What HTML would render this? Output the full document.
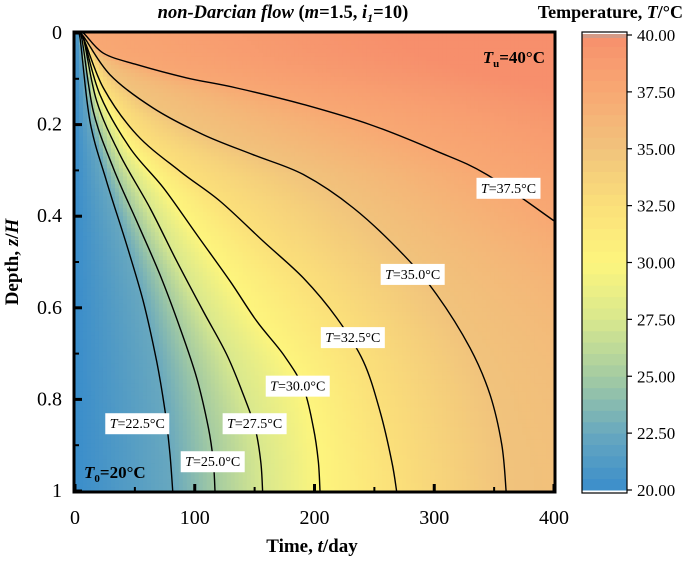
<!DOCTYPE html>
<html><head><meta charset="utf-8">
<style>
body{margin:0;background:#fff;}
svg{display:block;font-family:"Liberation Serif",serif;}
</style></head>
<body>
<svg id="chart" width="685" height="561" viewBox="0 0 685 561">
  <defs><clipPath id="clip"><rect x="75" y="33" width="479" height="458"/></clipPath></defs>
  <g id="heat" clip-path="url(#clip)"></g>
  <g id="contours" clip-path="url(#clip)"></g>
  <g id="labels"></g>
  <rect x="74" y="32" width="481" height="460" fill="none" stroke="#000" stroke-width="3"/>
  <g id="axes"></g>
  <text x="283" y="18" text-anchor="middle" font-size="18.5" font-weight="bold" font-style="italic">non-Darcian flow <tspan font-style="normal">(</tspan>m<tspan font-style="normal">=1.5, </tspan>i<tspan font-size="12" dy="4">1</tspan><tspan font-style="normal" dy="-4">=10)</tspan></text>
  <text x="683" y="18" text-anchor="end" font-size="18" font-weight="bold">Temperature, <tspan font-style="italic">T</tspan>/°C</text>
  <text x="545" y="63" text-anchor="end" font-size="17" font-weight="bold"><tspan font-style="italic">T</tspan><tspan font-size="11" dy="4">u</tspan><tspan dy="-4">=40°C</tspan></text>
  <text x="84" y="478" font-size="17" font-weight="bold"><tspan font-style="italic">T</tspan><tspan font-size="11" dy="4">0</tspan><tspan dy="-4">=20°C</tspan></text>
  <text x="312" y="552" text-anchor="middle" font-size="19" font-weight="bold">Time, <tspan font-style="italic">t</tspan>/day</text>
  <text transform="translate(18,262) rotate(-90)" text-anchor="middle" font-size="19" font-weight="bold">Depth, <tspan font-style="italic">z</tspan>/<tspan font-style="italic">H</tspan></text>
  <g id="cbar"></g>
</svg>
<script>
const levels=[22.5,25,27.5,30,32.5,35,37.5];
const c225t=[4.2,12.5,26.4,43.1,57,68.2,75.2,79.3,81.6];
const c225z=[0.011,0.193,0.324,0.462,0.586,0.717,0.826,0.920,1.0];
const c25t=[5.6,15.3,32,51.5,71,87.7,101.6,111.4,115.5,116.9];
const c25z=[0.011,0.171,0.295,0.411,0.528,0.644,0.753,0.862,0.935,1.0];
const c275t=[6.9,18.1,37.6,62.6,84.9,107.2,126.7,140.6,150.3,155.1,156.7];
const c275z=[0.011,0.149,0.266,0.382,0.498,0.608,0.702,0.790,0.862,0.935,1.0];
const c30t=[6.9,20.9,45.9,73.8,101.6,129.5,151.7,174,190.7,199.1,203.2,204.6];
const c30z=[0.011,0.135,0.251,0.338,0.440,0.542,0.629,0.702,0.775,0.862,0.935,1.0];
const c325t=[6.9,23.7,51.5,87.7,121.1,157.3,190.7,218.5,240.8,254.7,264.5,268.6];
const c325z=[0.011,0.120,0.222,0.302,0.367,0.455,0.535,0.622,0.717,0.826,0.935,1.0];
const c35t=[6.9,29.2,65.4,107.2,149,190.7,232.5,274.2,302,329.9,346.6,356.4,360];
const c35z=[0.007,0.091,0.164,0.222,0.266,0.309,0.382,0.484,0.571,0.688,0.790,0.899,1.0];
const c375t=[6.9,23.7,51.5,93.3,135,190.7,246.4,302,343.8,400];
const c375z=[0,0.044,0.069,0.098,0.120,0.156,0.200,0.258,0.309,0.410];
const labelT=[52,115,150,186,232,282,362];
const labelZ=[0.852,0.935,0.852,0.77,0.664,0.526,0.338];
const xTicks=[0,100,200,300,400];
const yTicks=[0,0.2,0.4,0.6,0.8,1];
const cbTicks=[20,22.5,25,27.5,30,32.5,35,37.5,40];
const cmapT=[20,22.5,25,27.5,30,32.5,35,37.5,40];
const cmapC=["#3a8dcb","#68a8bf","#a4cba2","#d8e88e","#fdf57d","#fbe07a","#f1c37c","#f8a873","#f78f6c"];

const NS="http://www.w3.org/2000/svg";
const X=t=>75+t*479/400, Y=z=>33+z*458;
const CB0=32,CB1=493,CBX=582,CBW=45;
const CY=v=>CB1-(v-20)/20*(CB1-CB0-6)-3;
function el(tag,attrs,parent){const e=document.createElementNS(NS,tag);for(const k in attrs)e.setAttribute(k,attrs[k]);parent.appendChild(e);return e;}
function hex(h){return [1,3,5].map(i=>parseInt(h.substr(i,2),16));}
function color(v){v=Math.max(20,Math.min(40,v));for(let i=0;i<cmapT.length-1;i++){if(v<=cmapT[i+1]){const f=(v-cmapT[i])/(cmapT[i+1]-cmapT[i]);const a=hex(cmapC[i]),b=hex(cmapC[i+1]);return `rgb(${a.map((x,j)=>Math.round(x+(b[j]-x)*f)).join(',')})`;}}return cmapC[cmapC.length-1];}
const cts=[[c225t,c225z],[c25t,c25z],[c275t,c275z],[c30t,c30z],[c325t,c325z],[c35t,c35z],[c375t,c375z]];
function tAt(ci,z){const [ts,zs]=cts[ci];if(z<=zs[0])return ts[0];for(let i=0;i<zs.length-1;i++){if(z<=zs[i+1]){const f=(z-zs[i])/(zs[i+1]-zs[i]);return ts[i]+(ts[i+1]-ts[i])*f;}}const n=zs.length;return ts[n-1]+(z-zs[n-1])*700;}
function temp(t,z){const bs=levels.map((_,i)=>tAt(i,z));if(t<=bs[0])return 20+2.5*t/bs[0];for(let i=0;i<bs.length-1;i++){if(t<=bs[i+1])return levels[i]+2.5*(t-bs[i])/(bs[i+1]-bs[i]);}return 37.5+2.5*Math.min(1,(t-bs[6])/260);}
function smooth(pts){let d='M'+pts[0][0].toFixed(1)+','+pts[0][1].toFixed(1);
for(let i=0;i<pts.length-1;i++){const p0=pts[Math.max(0,i-1)],p1=pts[i],p2=pts[i+1],p3=pts[Math.min(pts.length-1,i+2)];
const c1=[p1[0]+(p2[0]-p0[0])/6,p1[1]+(p2[1]-p0[1])/6],c2=[p2[0]-(p3[0]-p1[0])/6,p2[1]-(p3[1]-p1[1])/6];
d+=` C${c1[0].toFixed(1)},${c1[1].toFixed(1)} ${c2[0].toFixed(1)},${c2[1].toFixed(1)} ${p2[0].toFixed(1)},${p2[1].toFixed(1)}`;}return d;}
// heatmap
const heat=document.getElementById('heat');
const nx=120,nz=115;
for(let j=0;j<nz;j++){for(let i=0;i<nx;i++){const t=(i+0.5)*400/nx,z=(j+0.5)/nz;
const r=el('rect',{x:X(i*400/nx).toFixed(2),y:Y(j/nz).toFixed(2),width:(479/nx+0.6).toFixed(2),height:(458/nz+0.6).toFixed(2),fill:color(temp(t,z))},heat);

}}
// contours
const cg=document.getElementById('contours');
cts.forEach(([ts,zs],k)=>{const pts=[[X(1),Y(0)]];ts.forEach((t,i)=>pts.push([X(t),Y(zs[i])]));
const p=el('path',{d:smooth(pts),fill:'none',stroke:'#000','stroke-width':1.4,'stroke-linejoin':'round'},cg);

});
// labels
const lg=document.getElementById('labels');
levels.forEach((lv,k)=>{const cx=X(labelT[k]),cy=Y(labelZ[k]);
const r=el('rect',{x:cx-32,y:cy-10,width:64,height:21,fill:'#fff'},lg);


const tx=el('text',{x:cx,y:cy+5,'text-anchor':'middle','font-size':14},lg);


tx.innerHTML='<tspan font-style="italic">T</tspan>='+lv.toFixed(1)+'°C';});
// axes
const ag=document.getElementById('axes');
xTicks.forEach(v=>{const t=el('text',{x:X(v),y:524,'text-anchor':'middle','font-size':20},ag);t.textContent=v;

});
for(let v=0;v<=400;v+=50){const big=v%100===0;el('line',{x1:X(v),x2:X(v),y1:491,y2:491-(big?7:4),stroke:'#000','stroke-width':big?3:2},ag);}
yTicks.forEach(v=>{const t=el('text',{x:62,y:Y(v)+6,'text-anchor':'end','font-size':20},ag);t.textContent=v;

});
for(let k=0;k<=10;k++){const v=k/10,big=k%2===0;el('line',{x1:75,x2:75+(big?7:4),y1:Y(v),y2:Y(v),stroke:'#000','stroke-width':big?3:2},ag);}
// colorbar
const cb=document.getElementById('cbar');
const nb=40;
for(let i=0;i<nb;i++){const v=20+(i+0.5)*20/nb;const y1=CY(20+(i+1)*20/nb),y0=CY(20+i*20/nb);
const r=el('rect',{x:CBX,y:y1,width:CBW,height:y0-y1+0.5,fill:color(v)},cb);

}
el('rect',{x:CBX,y:CY(40)-1,width:CBW,height:4,fill:'#d49a86'},cb);
el('rect',{x:CBX,y:CB0,width:CBW,height:CB1-CB0,fill:'none',stroke:'#000','stroke-width':1.2},cb);
cbTicks.forEach(v=>{el('line',{x1:CBX+CBW,x2:CBX+CBW+5,y1:CY(v),y2:CY(v),stroke:'#000','stroke-width':1.2},cb);
const t=el('text',{x:637,y:CY(v)+6,'font-size':17},cb);t.textContent=v.toFixed(2);

});
</script>
</body></html>
